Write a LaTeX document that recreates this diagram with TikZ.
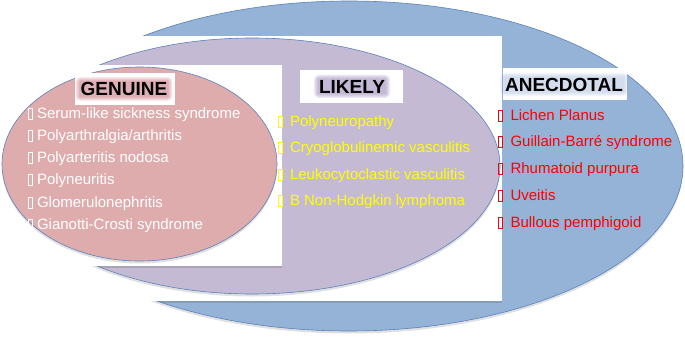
\documentclass[tikz,border=0pt]{standalone}
\usepackage{fontspec}
\setmainfont{Liberation Sans}
\pgfdeclarelayer{bg}
\pgfdeclarelayer{mid}
\pgfsetlayers{bg,mid,main}
\definecolor{blueF}{RGB}{149,179,215}
\definecolor{purpF}{RGB}{197,186,211}
\definecolor{pinkF}{RGB}{223,172,173}
\definecolor{edgeC}{RGB}{90,130,190}
\definecolor{glowG}{RGB}{190,90,100}
\definecolor{glowL}{RGB}{140,120,175}
\definecolor{glowA}{RGB}{130,160,205}
\definecolor{yelT}{RGB}{255,255,0}
\definecolor{redT}{RGB}{255,0,0}
\newcommand\tofu{\raisebox{-0.5pt}{\setlength\fboxsep{0pt}\setlength\fboxrule{0.8pt}\fbox{\rule{0pt}{10pt}\rule{3.2pt}{0pt}}}}
\tikzset{
  ell/.style={fill=#1, draw=edgeC, line width=0.6pt},
  shad/.style={fill=black, opacity=0.12},
  whitebox/.style={fill=white},
  head/.style={font=\bfseries\fontsize{19}{22}\selectfont, inner sep=0pt, anchor=base, text=black},
  item/.style={font=\fontsize{15}{18}\selectfont, inner sep=0pt, anchor=base west, text=#1},
}
\begin{document}
\begin{tikzpicture}[x=1pt,y=-1pt]
\useasboundingbox (0,0) rectangle (685,337);
\begin{pgfonlayer}{bg}
  % outer blue ellipse
  \fill[shad] (349,168.5) ellipse [x radius=334pt, y radius=165pt];
  \fill[ell=blueF] (349,166) ellipse [x radius=334pt, y radius=165pt];
  \begin{scope}
    \clip (349,166) ellipse [x radius=334pt, y radius=165pt];
    \fill[shad] (0,37.5) rectangle (502,302.5);
  \end{scope}
  \fill[whitebox] (0,36) rectangle (502,301);
  % purple ellipse
  \begin{scope}
    \clip (0,36) rectangle (502,303);
    \fill[shad] (252,168.5) ellipse [x radius=248pt, y radius=128pt];
  \end{scope}
  \fill[ell=purpF] (252,166) ellipse [x radius=248pt, y radius=128pt];
  \begin{scope}
    \clip (252,166) ellipse [x radius=248pt, y radius=128pt];
    \fill[shad] (0,66.5) rectangle (282,267.5);
  \end{scope}
  \fill[whitebox] (0,65) rectangle (282,266);
  % pink ellipse
  \begin{scope}
    \clip (0,65) rectangle (282,268);
    \fill[shad] (139.5,166.5) ellipse [x radius=137.5pt, y radius=97pt];
  \end{scope}
  \fill[ell=pinkF] (139.5,164) ellipse [x radius=137.5pt, y radius=97pt];
  % heading boxes
  \fill[whitebox] (75,73) rectangle (175,105);
  \fill[whitebox] (300,70) rectangle (403,103);
  \fill[whitebox] (503,68) rectangle (627,100);
\end{pgfonlayer}

\node[head] (hg) at (124,95.5) {GENUINE};
\node[head] (hl) at (352,93) {LIKELY};
\node[head] (ha) at (564,91) {ANECDOTAL};

\begin{pgfonlayer}{mid}
  \foreach \r in {1,...,5} {
    \fill[glowG, opacity=0.12, rounded corners=\r pt] ([xshift=-\r pt, yshift=\r pt]hg.north west) rectangle ([xshift=\r pt, yshift=-\r pt]hg.south east);
    \fill[glowL, opacity=0.13, rounded corners=\r pt] ([xshift=-\r pt, yshift=\r pt]hl.north west) rectangle ([xshift=\r pt, yshift=-\r pt]hl.south east);
    \fill[glowA, opacity=0.08, rounded corners=\r pt] ([xshift=-\r pt, yshift=\r pt]ha.north west) rectangle ([xshift=\r pt, yshift=-\r pt]ha.south east);
  }
\end{pgfonlayer}

% genuine list
\node[item=white] (g1) at (28,118) {\tofu\hspace{4pt}Serum-like sickness syndrome};
\node[item=white] (g2) at (28,140) {\tofu\hspace{4pt}Polyarthralgia/arthritis};
\node[item=white] (g3) at (28,162.5) {\tofu\hspace{4pt}Polyarteritis nodosa};
\node[item=white] (g4) at (28,184.5) {\tofu\hspace{4pt}Polyneuritis};
\node[item=white] (g5) at (28,207) {\tofu\hspace{4pt}Glomerulonephritis};
\node[item=white] (g6) at (28,229.5) {\tofu\hspace{4pt}Gianotti-Crosti syndrome};

% likely list
\node[item=yelT] (l1) at (278,126) {\tofu\hspace{7pt}Polyneuropathy};
\node[item=yelT] (l2) at (278,152.5) {\tofu\hspace{7pt}Cryoglobulinemic vasculitis};
\node[item=yelT] (l3) at (278,179) {\tofu\hspace{7pt}Leukocytoclastic vasculitis};
\node[item=yelT] (l4) at (278,205.5) {\tofu\hspace{7pt}B Non-Hodgkin lymphoma};

% anecdotal list
\node[item=redT] (a1) at (498,120) {\tofu\hspace{7.5pt}Lichen Planus};
\node[item=redT] (a2) at (498,146.5) {\tofu\hspace{7.5pt}Guillain-Barré syndrome};
\node[item=redT] (a3) at (498,173) {\tofu\hspace{7.5pt}Rhumatoid purpura};
\node[item=redT] (a4) at (498,200) {\tofu\hspace{7.5pt}Uveitis};
\node[item=redT] (a5) at (498,227) {\tofu\hspace{7.5pt}Bullous pemphigoid};
\end{tikzpicture}
\end{document}
